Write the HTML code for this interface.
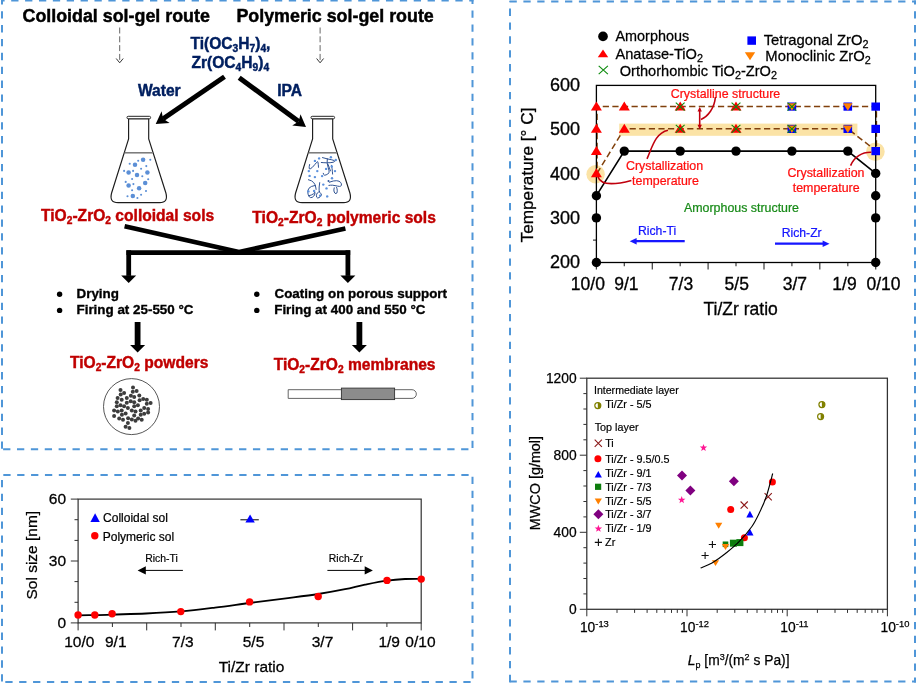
<!DOCTYPE html>
<html lang="en"><head><meta charset="utf-8"><title>TiO2-ZrO2 sol-gel graphical abstract</title>
<style>html,body{margin:0;padding:0;background:#fff}svg{display:block}text{font-family:"Liberation Sans", Arial, Helvetica, sans-serif;white-space:pre}</style>
</head><body>
<svg width="916" height="684" viewBox="0 0 916 684">
<rect width="916" height="684" fill="#fff"/>
<defs><filter id="soft" x="0" y="0" width="916" height="684" filterUnits="userSpaceOnUse"><feGaussianBlur stdDeviation="0.38"/></filter></defs>
<g filter="url(#soft)">
<g fill="none" stroke="#5096d8" stroke-width="2" stroke-dasharray="7.3 6.58">
<path d="M2 0 V450.2" stroke-dashoffset="2.68"/>
<path d="M2 0.6 H473.5" stroke-dashoffset="4.68"/>
<path d="M472.5 0 V449.2" stroke-dashoffset="3.38"/>
<path d="M1 449.2 H472.5" stroke-dashoffset="11.78"/>
<path d="M2 475 H472.5" stroke-dashoffset="12.58"/>
<path d="M2 475 V683" stroke-dashoffset="8.98"/>
<path d="M1 682 H473.5" stroke-dashoffset="9.58"/>
<path d="M472.5 475 V682" stroke-dashoffset="12.08"/>
<path d="M509 1.5 H916" stroke-dashoffset="13.38"/>
<path d="M510 1.5 V682.5" stroke-dashoffset="6.78"/>
<path d="M509 681.5 H916" stroke-dashoffset="13.38"/>
<path d="M915 0.5 V682.5" stroke-dashoffset="3.18"/>
</g>
<g id="flow">
<text transform="translate(22.49,21.5)" font-size="17.85" fill="#000" stroke="#000" stroke-width="0.46" font-weight="bold">Colloidal sol-gel route</text>
<text transform="translate(236.43,21.5)" font-size="17.85" fill="#000" stroke="#000" stroke-width="0.46" font-weight="bold">Polymeric sol-gel route</text>
<path d="M119.7 27.5 V62.5" stroke="#666" stroke-width="1" stroke-dasharray="6 2.8" fill="none"/>
<path d="M116.2 58.5 L119.7 62.8 L123.2 58.5" stroke="#333" stroke-width="1" fill="none"/>
<path d="M320.1 27.5 V62.5" stroke="#666" stroke-width="1" stroke-dasharray="6 2.8" fill="none"/>
<path d="M316.6 58.5 L320.1 62.8 L323.6 58.5" stroke="#333" stroke-width="1" fill="none"/>
<text transform="translate(190.44,49.4)" font-size="15.6" fill="#002060" stroke="#002060" stroke-width="0.41" font-weight="bold">Ti(OC<tspan font-size="10.2" dy="2.8">3</tspan><tspan dy="-2.8">H</tspan><tspan font-size="10.2" dy="2.8">7</tspan><tspan dy="-2.8">)</tspan><tspan font-size="10.2" dy="2.8">4</tspan><tspan dy="-2.8">,</tspan></text>
<text transform="translate(191.39,68.0)" font-size="15.6" fill="#002060" stroke="#002060" stroke-width="0.41" font-weight="bold">Zr(OC<tspan font-size="10.2" dy="2.8">4</tspan><tspan dy="-2.8">H</tspan><tspan font-size="10.2" dy="2.8">9</tspan><tspan dy="-2.8">)</tspan><tspan font-size="10.2" dy="2.8">4</tspan></text>
<text transform="translate(137.9,95.6)" font-size="15.6" fill="#002060" stroke="#002060" stroke-width="0.41" font-weight="bold">Water</text>
<text transform="translate(277.26,95.6)" font-size="15.6" fill="#002060" stroke="#002060" stroke-width="0.41" font-weight="bold">IPA</text>
<path d="M224.5 76.8 L163.1 118.8" stroke="#000" stroke-width="5" fill="none"/>
<path d="M155.7 123.9 L161.6 111.3 L163.1 118.8 L169.6 122.9 Z" fill="#000"/>
<path d="M239.2 77.8 L298.7 121.6" stroke="#000" stroke-width="5" fill="none"/>
<path d="M306.0 126.9 L292.2 125.4 L298.7 121.6 L300.5 114.2 Z" fill="#000"/>
<g transform="translate(0,0)">
<path d="M128.6 118.6 V138.8 L111.6 193 Q109 202.6 118 202.6 H159.5 Q168.5 202.6 165.9 193 L148.7 138.8 V118.6 Z" fill="#fff" stroke="#1a1a1a" stroke-width="1.15"/>
<rect x="127" y="116.3" width="23.6" height="2.5" rx="1.2" fill="#fff" stroke="#222" stroke-width="1"/>
<path d="M124.6 152.8 H152.8" stroke="#777" stroke-width="1.5" fill="none"/>
</g>
<g transform="translate(184,0)">
<path d="M128.6 118.6 V138.8 L111.6 193 Q109 202.6 118 202.6 H159.5 Q168.5 202.6 165.9 193 L148.7 138.8 V118.6 Z" fill="#fff" stroke="#1a1a1a" stroke-width="1.15"/>
<rect x="127" y="116.3" width="23.6" height="2.5" rx="1.2" fill="#fff" stroke="#222" stroke-width="1"/>
<path d="M124.6 152.8 H152.8" stroke="#777" stroke-width="1.5" fill="none"/>
</g>
<g fill="#5b8fd6">
<circle cx="143.1" cy="159.7" r="2.25"/>
<circle cx="135.0" cy="164.8" r="2.25"/>
<circle cx="128.6" cy="172.5" r="2.25"/>
<circle cx="137.0" cy="175.0" r="2.25"/>
<circle cx="147.4" cy="172.5" r="2.25"/>
<circle cx="145.2" cy="183.0" r="2.25"/>
<circle cx="128.6" cy="185.4" r="2.25"/>
<circle cx="139.1" cy="188.3" r="2.25"/>
<circle cx="132.8" cy="196.0" r="2.25"/>
<circle cx="150.3" cy="159.7" r="1.05"/>
<circle cx="138.2" cy="160.8" r="1.05"/>
<circle cx="129.7" cy="163.7" r="1.05"/>
<circle cx="146.3" cy="166.1" r="1.05"/>
<circle cx="141.1" cy="168.8" r="1.05"/>
<circle cx="124.1" cy="170.9" r="1.05"/>
<circle cx="133.1" cy="170.9" r="1.05"/>
<circle cx="142.3" cy="176.2" r="1.05"/>
<circle cx="132.1" cy="179.0" r="1.05"/>
<circle cx="148.2" cy="179.3" r="1.05"/>
<circle cx="125.7" cy="181.9" r="1.05"/>
<circle cx="133.4" cy="184.1" r="1.05"/>
<circle cx="146.0" cy="191.0" r="1.05"/>
<circle cx="132.1" cy="190.2" r="1.05"/>
<circle cx="141.1" cy="194.7" r="1.05"/>
<circle cx="127.5" cy="196.2" r="1.05"/>
<circle cx="137.4" cy="198.0" r="1.05"/>
</g>
<g fill="none" stroke="#254a8c" stroke-width="0.95" stroke-linejoin="round" stroke-linecap="round">
<path d="M309.6 164.5 Q308.4 169.7 310.2 168.9 Q312.1 168.1 314.7 164.7 Q317.3 161.3 317.7 161.7 Q318.1 162.1 318.3 164.7 L318.5 167.3"/>
<path d="M322.5 157.6 Q328.1 159.2 331.8 159.8 Q335.4 160.5 334.6 161.5 Q333.8 162.5 330.1 162.7 Q326.5 162.9 323.9 162.7 L321.3 162.5"/>
<path d="M327.3 158.8 Q326.5 162.9 328.1 167.3 Q329.7 171.7 328.9 172.9 Q328.1 174.1 326.1 174.9 Q324.1 175.7 323.7 174.5 L323.3 173.3"/>
<path d="M331.4 165.3 Q332.2 168.5 332.4 171.3 L332.6 174.1"/>
<path d="M328.1 164.5 L330.5 170.9"/>
<path d="M308.4 179.7 Q312.1 180.5 313.7 182.6 Q315.3 184.6 315.7 187.0 L316.1 189.4"/>
<path d="M315.3 185.4 Q310.5 186.2 309.0 188.2 Q307.6 190.2 307.8 192.6 Q308.0 195.0 309.2 196.6 Q310.5 198.2 312.1 197.4 Q313.7 196.6 314.5 195.0 Q315.3 193.4 314.7 192.0 L314.1 190.6"/>
<path d="M308.8 195.8 Q312.1 195.0 313.5 193.8 L314.9 192.6"/>
<path d="M319.7 182.6 Q318.9 187.8 319.1 190.2 Q319.3 192.6 320.5 193.2 Q321.7 193.8 321.3 195.2 Q320.9 196.6 319.1 197.6 Q317.3 198.6 316.7 197.2 Q316.1 195.8 316.7 194.2 Q317.3 192.6 318.3 192.2 L319.3 191.8"/>
<path d="M329.3 182.2 Q333.8 180.5 336.6 180.7 Q339.4 180.9 340.6 182.4 Q341.8 183.8 341.4 185.2 Q341.0 186.6 339.4 186.4 Q337.8 186.2 335.0 185.6 Q332.2 185.0 330.5 185.2 L328.9 185.4"/>
<path d="M334.2 187.8 Q333.4 190.2 334.2 192.0 Q335.0 193.8 336.0 193.6 Q337.0 193.4 337.2 191.8 Q337.4 190.2 337.0 188.8 L336.6 187.4"/>
</g>
<g fill="#5b90dc">
<circle cx="319.1" cy="158.4" r="1.2"/>
<circle cx="330.9" cy="157.2" r="1.2"/>
<circle cx="335.8" cy="160.0" r="1.2"/>
<circle cx="314.9" cy="160.9" r="1.2"/>
<circle cx="331.8" cy="166.5" r="1.2"/>
<circle cx="326.1" cy="168.9" r="1.2"/>
<circle cx="308.8" cy="171.1" r="1.2"/>
<circle cx="317.3" cy="171.1" r="1.2"/>
<circle cx="335.0" cy="171.1" r="1.2"/>
<circle cx="309.6" cy="175.9" r="1.2"/>
<circle cx="314.9" cy="177.1" r="1.2"/>
<circle cx="322.1" cy="176.1" r="1.2"/>
<circle cx="332.0" cy="178.3" r="1.2"/>
<circle cx="323.3" cy="184.6" r="1.2"/>
<circle cx="326.5" cy="188.4" r="1.2"/>
<circle cx="308.4" cy="191.4" r="1.2"/>
<circle cx="314.1" cy="191.0" r="1.2"/>
<circle cx="320.1" cy="195.8" r="1.2"/>
<circle cx="327.2" cy="196.4" r="1.2"/>
</g>
<circle cx="328.5" cy="180.9" r="1" fill="#2c5499"/>
<text transform="translate(41.04,221.1)" font-size="15.6" fill="#c00000" stroke="#c00000" stroke-width="0.41" font-weight="bold">TiO<tspan font-size="10.2" dy="2.8">2</tspan><tspan dy="-2.8">-ZrO</tspan><tspan font-size="10.2" dy="2.8">2</tspan><tspan dy="-2.8"> colloidal sols</tspan></text>
<text transform="translate(252.34,223.2)" font-size="15.6" fill="#c00000" stroke="#c00000" stroke-width="0.41" font-weight="bold">TiO<tspan font-size="10.2" dy="2.8">2</tspan><tspan dy="-2.8">-ZrO</tspan><tspan font-size="10.2" dy="2.8">2</tspan><tspan dy="-2.8"> polymeric sols</tspan></text>
<path d="M124.6 226.2 L240 252.2 M345.4 228.6 L238 252.2" stroke="#000" stroke-width="4.6" fill="none"/>
<path d="M126.4 252.6 H350.2" stroke="#000" stroke-width="4.6" fill="none"/>
<path d="M128.7 250.3 V275.9" stroke="#000" stroke-width="4.8" fill="none"/>
<path d="M121.19999999999999 275.4 H136.2 L128.7 283 Z" fill="#000"/>
<path d="M347.9 250.3 V275.9" stroke="#000" stroke-width="4.8" fill="none"/>
<path d="M340.4 275.4 H355.4 L347.9 283 Z" fill="#000"/>
<circle cx="59.6" cy="294.2" r="2.7" fill="#000"/>
<circle cx="59.6" cy="310.4" r="2.7" fill="#000"/>
<circle cx="256.8" cy="294.2" r="2.7" fill="#000"/>
<circle cx="256.8" cy="310.4" r="2.7" fill="#000"/>
<text transform="translate(76.5,297.8)" font-size="13.4" fill="#000" stroke="#000" stroke-width="0.35" font-weight="bold">Drying</text>
<text transform="translate(76.5,314.2)" font-size="13.4" fill="#000" stroke="#000" stroke-width="0.35" font-weight="bold">Firing at 25-550 °C</text>
<text transform="translate(274.46,297.8)" font-size="13.4" fill="#000" stroke="#000" stroke-width="0.35" font-weight="bold">Coating on porous support</text>
<text transform="translate(274.2,314.0)" font-size="13.4" fill="#000" stroke="#000" stroke-width="0.35" font-weight="bold">Firing at 400 and 550 °C</text>
<path d="M137.6 322 V345.4" stroke="#000" stroke-width="5.8" fill="none"/>
<path d="M130.1 344.9 H145.1 L137.6 352.5 Z" fill="#000"/>
<path d="M359.4 322 V345.4" stroke="#000" stroke-width="5.8" fill="none"/>
<path d="M351.9 344.9 H366.9 L359.4 352.5 Z" fill="#000"/>
<text transform="translate(69.94,368.3)" font-size="15.6" fill="#c00000" stroke="#c00000" stroke-width="0.41" font-weight="bold">TiO<tspan font-size="10.2" dy="2.8">2</tspan><tspan dy="-2.8">-ZrO</tspan><tspan font-size="10.2" dy="2.8">2</tspan><tspan dy="-2.8"> powders</tspan></text>
<text transform="translate(273.64,369.8)" font-size="15.6" fill="#c00000" stroke="#c00000" stroke-width="0.41" font-weight="bold">TiO<tspan font-size="10.2" dy="2.8">2</tspan><tspan dy="-2.8">-ZrO</tspan><tspan font-size="10.2" dy="2.8">2</tspan><tspan dy="-2.8"> membranes</tspan></text>
<circle cx="131.5" cy="406.6" r="28" fill="#fff" stroke="#444" stroke-width="0.9"/>
<g fill="#3c3c3c">
<circle cx="120.5" cy="390.0" r="2"/>
<circle cx="133.0" cy="387.6" r="2"/>
<circle cx="124.1" cy="393.0" r="2"/>
<circle cx="136.6" cy="391.0" r="2"/>
<circle cx="132.8" cy="391.7" r="2"/>
<circle cx="120.7" cy="394.4" r="2"/>
<circle cx="117.6" cy="398.1" r="2"/>
<circle cx="121.7" cy="399.7" r="2"/>
<circle cx="126.8" cy="398.1" r="2"/>
<circle cx="130.9" cy="395.8" r="2"/>
<circle cx="134.2" cy="397.1" r="2"/>
<circle cx="139.3" cy="395.6" r="2"/>
<circle cx="143.2" cy="398.9" r="2"/>
<circle cx="146.8" cy="399.7" r="2"/>
<circle cx="139.6" cy="400.2" r="2"/>
<circle cx="116.8" cy="402.2" r="2"/>
<circle cx="126.8" cy="402.8" r="2"/>
<circle cx="130.7" cy="401.2" r="2"/>
<circle cx="134.2" cy="402.2" r="2"/>
<circle cx="150.6" cy="403.0" r="2"/>
<circle cx="146.8" cy="403.8" r="2"/>
<circle cx="116.8" cy="406.3" r="2"/>
<circle cx="120.5" cy="405.3" r="2"/>
<circle cx="124.1" cy="406.3" r="2"/>
<circle cx="127.9" cy="407.9" r="2"/>
<circle cx="134.2" cy="406.3" r="2"/>
<circle cx="137.9" cy="405.3" r="2"/>
<circle cx="144.2" cy="407.9" r="2"/>
<circle cx="148.1" cy="408.9" r="2"/>
<circle cx="114.1" cy="410.4" r="2"/>
<circle cx="117.8" cy="411.5" r="2"/>
<circle cx="121.7" cy="410.4" r="2"/>
<circle cx="131.8" cy="410.4" r="2"/>
<circle cx="135.5" cy="411.5" r="2"/>
<circle cx="140.7" cy="410.4" r="2"/>
<circle cx="148.1" cy="412.5" r="2"/>
<circle cx="144.2" cy="413.8" r="2"/>
<circle cx="140.7" cy="414.7" r="2"/>
<circle cx="125.6" cy="413.5" r="2"/>
<circle cx="121.9" cy="414.7" r="2"/>
<circle cx="134.2" cy="415.5" r="2"/>
<circle cx="114.1" cy="416.1" r="2"/>
<circle cx="119.2" cy="418.6" r="2"/>
<circle cx="123.0" cy="419.8" r="2"/>
<circle cx="128.1" cy="418.3" r="2"/>
<circle cx="131.8" cy="419.6" r="2"/>
<circle cx="135.5" cy="420.7" r="2"/>
<circle cx="138.1" cy="418.6" r="2"/>
<circle cx="141.7" cy="419.8" r="2"/>
<circle cx="127.9" cy="422.9" r="2"/>
<circle cx="125.6" cy="426.8" r="2"/>
<circle cx="129.4" cy="428.0" r="2"/>
</g>
<path d="M288.2 389.7 H412 A4.35 4.35 0 0 1 412 398.4 H288.2 Z" fill="#fff" stroke="#555" stroke-width="0.9"/>
<rect x="341.4" y="388.1" width="53.2" height="11.5" fill="#8c8c8c" stroke="#333" stroke-width="0.9"/>
</g>
<g id="solsize">
<rect x="78.1" y="499.1" width="343.1" height="123.8" fill="none" stroke="#303030" stroke-width="1.2"/>
<path d="M78.1 622.9 v7.5M112.4 622.9 v4.1M146.7 622.9 v7.5M181.0 622.9 v4.1M215.3 622.9 v7.5M249.7 622.9 v4.1M284.0 622.9 v7.5M318.3 622.9 v4.1M352.6 622.9 v7.5M386.9 622.9 v4.1M421.2 622.9 v7.5M78.1 622.9 h-7.3M78.1 561.0 h-7.3M78.1 499.1 h-7.3M78.1 602.3 h-3.6M78.1 581.6 h-3.6M78.1 540.4 h-3.6M78.1 519.7 h-3.6" stroke="#303030" stroke-width="1" fill="none"/>
<text transform="translate(66.06,628.1)" font-size="15.5" fill="#000" stroke="#000" stroke-width="0.28" text-anchor="end">0</text>
<text transform="translate(66.06,566.2)" font-size="15.5" fill="#000" stroke="#000" stroke-width="0.28" text-anchor="end">30</text>
<text transform="translate(66.06,504.29999999999995)" font-size="15.5" fill="#000" stroke="#000" stroke-width="0.28" text-anchor="end">60</text>
<text transform="translate(64.15,647)" font-size="15.5" fill="#000" stroke="#000" stroke-width="0.28">10/0</text>
<text transform="translate(104.97,647)" font-size="15.5" fill="#000" stroke="#000" stroke-width="0.28">9/1</text>
<text transform="translate(172.12,647)" font-size="15.5" fill="#000" stroke="#000" stroke-width="0.28">7/3</text>
<text transform="translate(242.7,647)" font-size="15.5" fill="#000" stroke="#000" stroke-width="0.28">5/5</text>
<text transform="translate(311.75,647)" font-size="15.5" fill="#000" stroke="#000" stroke-width="0.28">3/7</text>
<text transform="translate(378.44,647)" font-size="15.5" fill="#000" stroke="#000" stroke-width="0.28">1/9</text>
<text transform="translate(405.36,647)" font-size="15.5" fill="#000" stroke="#000" stroke-width="0.28">0/10</text>
<text transform="translate(218.69,672.0)" font-size="15.5" fill="#000" stroke="#000" stroke-width="0.28">Ti/Zr ratio</text>
<text transform="translate(36.9,555.2) rotate(-90)" font-size="15.5" fill="#000" stroke="#000" stroke-width="0.28" text-anchor="middle">Sol size [nm]</text>
<path d="M78.1 615.3 C80.9 615.3 89.1 615.2 94.8 615.1 C100.5 615.0 103.6 614.9 112.1 614.6 C120.6 614.3 134.6 614.0 146.0 613.5 C157.4 613.0 169.3 612.4 180.8 611.4 C192.3 610.4 203.5 609.0 215.0 607.6 C226.5 606.2 238.1 604.5 249.6 603.0 C261.1 601.5 272.6 600.1 284.0 598.6 C295.4 597.1 308.0 595.6 318.2 594.0 C328.4 592.4 337.2 590.8 345.0 589.2 C352.8 587.6 358.0 586.0 365.0 584.6 C372.0 583.2 380.3 581.5 387.0 580.6 C393.7 579.7 399.3 579.3 405.0 579.0 C410.7 578.7 418.5 578.8 421.2 578.8" stroke="#000" stroke-width="1.8" fill="none"/>
<circle cx="78.1" cy="615" r="3.7" fill="#ff0000"/>
<circle cx="94.8" cy="615" r="3.7" fill="#ff0000"/>
<circle cx="112.1" cy="613.7" r="3.7" fill="#ff0000"/>
<circle cx="180.8" cy="611.6" r="3.7" fill="#ff0000"/>
<circle cx="249.6" cy="601.9" r="3.7" fill="#ff0000"/>
<circle cx="318.2" cy="596.5" r="3.7" fill="#ff0000"/>
<circle cx="387.0" cy="580.4" r="3.7" fill="#ff0000"/>
<circle cx="421.2" cy="579.1" r="3.7" fill="#ff0000"/>
<path d="M240.4 519.8 H258.8" stroke="#000" stroke-width="1"/>
<path d="M250.1 514.6 L254.8 522.6 H245.4 Z" fill="#0000ff"/>
<path d="M95.1 513.3 L99.8 521.9 H90.4 Z" fill="#0000ff"/>
<text transform="translate(103.1,521.8)" font-size="12" fill="#000" stroke="#000" stroke-width="0.22">Colloidal sol</text>
<circle cx="94.8" cy="535.8" r="3.7" fill="#ff0000"/>
<text transform="translate(102.74,540.7)" font-size="12" fill="#000" stroke="#000" stroke-width="0.22">Polymeric sol</text>
<text transform="translate(145.27,561.7)" font-size="10.4" fill="#000" stroke="#000" stroke-width="0.19">Rich-Ti</text>
<text transform="translate(328.87,561.9)" font-size="10.4" fill="#000" stroke="#000" stroke-width="0.19">Rich-Zr</text>
<path d="M182.9 570.4 H144" stroke="#000" stroke-width="1"/><path d="M137.6 570.4 L145.8 566.2 V574.6 Z" fill="#000"/>
<path d="M327.4 570.4 H366" stroke="#000" stroke-width="1"/><path d="M372.9 570.4 L364.7 566.2 V574.6 Z" fill="#000"/>
</g>
<g id="phase">
<rect x="619.2" y="123.6" width="238.2" height="12.2" fill="#fbe3a6"/>
<circle cx="595.6" cy="174.2" r="9.2" fill="#fbe3a6"/>
<circle cx="875.4" cy="151.7" r="9.3" fill="#fbe3a6"/>
<path d="M596.4 262.5 v7M624.3 262.5 v3.8M652.3 262.5 v7M680.2 262.5 v3.8M708.1 262.5 v7M736.0 262.5 v3.8M764.0 262.5 v7M791.9 262.5 v3.8M819.8 262.5 v7M847.8 262.5 v3.8M875.7 262.5 v7M596.4 240.2 h-3.4" stroke="#444" stroke-width="1.25" fill="none"/>
<path d="M597.0 173.4 L624.3 128.8 H847.8 L876.4 151.1 V106.6 H597.0 Z" fill="none" stroke="#80400a" stroke-width="1.5" stroke-dasharray="6.2 3.4"/>
<rect x="596.4" y="85.4" width="279.3" height="177.1" fill="none" stroke="#000" stroke-width="1.3"/>
<path d="M596.4 195.7 L624.3 151.1 H847.8 L875.7 173.4" fill="none" stroke="#000" stroke-width="1.6"/>
<circle cx="596.4" cy="262.5" r="4.7" fill="#000"/>
<circle cx="596.4" cy="217.9" r="4.7" fill="#000"/>
<circle cx="596.4" cy="195.7" r="4.7" fill="#000"/>
<circle cx="624.3" cy="151.1" r="4.7" fill="#000"/>
<circle cx="680.2" cy="151.1" r="4.7" fill="#000"/>
<circle cx="736.0" cy="151.1" r="4.7" fill="#000"/>
<circle cx="791.9" cy="151.1" r="4.7" fill="#000"/>
<circle cx="847.8" cy="151.1" r="4.7" fill="#000"/>
<circle cx="875.7" cy="262.5" r="4.7" fill="#000"/>
<circle cx="875.7" cy="217.9" r="4.7" fill="#000"/>
<circle cx="875.7" cy="195.7" r="4.7" fill="#000"/>
<circle cx="875.7" cy="173.4" r="4.7" fill="#000"/>
<path d="M596.4 168.3 L601.9 177.3 H590.9 Z" fill="#ff0000"/>
<path d="M596.4 146.0 L601.9 155.0 H590.9 Z" fill="#ff0000"/>
<path d="M596.4 123.8 L601.9 132.8 H590.9 Z" fill="#ff0000"/>
<path d="M596.4 101.5 L601.9 110.5 H590.9 Z" fill="#ff0000"/>
<path d="M624.3 123.8 L629.8 132.8 H618.8 Z" fill="#ff0000"/>
<path d="M624.3 101.5 L629.8 110.5 H618.8 Z" fill="#ff0000"/>
<path d="M680.2 123.8 L685.7 132.8 H674.7 Z" fill="#ff0000"/>
<path d="M680.2 101.5 L685.7 110.5 H674.7 Z" fill="#ff0000"/>
<path d="M736.0 123.8 L741.5 132.8 H730.5 Z" fill="#ff0000"/>
<path d="M736.0 101.5 L741.5 110.5 H730.5 Z" fill="#ff0000"/>
<rect x="787.6" y="124.8" width="8.6" height="8.2" fill="#0000ff"/>
<rect x="787.6" y="102.5" width="8.6" height="8.2" fill="#0000ff"/>
<rect x="843.5" y="124.8" width="8.6" height="8.2" fill="#0000ff"/>
<rect x="843.5" y="102.5" width="8.6" height="8.2" fill="#0000ff"/>
<rect x="871.4" y="147.0" width="8.6" height="8.2" fill="#0000ff"/>
<rect x="871.4" y="124.8" width="8.6" height="8.2" fill="#0000ff"/>
<rect x="871.4" y="102.5" width="8.6" height="8.2" fill="#0000ff"/>
<path d="M791.9 133.1 L796.7 125.5 H787.1 Z" fill="#ff8000"/>
<path d="M791.9 110.8 L796.7 103.2 H787.1 Z" fill="#ff8000"/>
<path d="M847.8 133.1 L852.6 125.5 H843.0 Z" fill="#ff8000"/>
<path d="M847.8 110.8 L852.6 103.2 H843.0 Z" fill="#ff8000"/>
<path d="M675.8 124.8 L684.6 132.8 M675.8 132.8 L684.6 124.8" stroke="#0a8a0a" stroke-width="1.1" fill="none"/>
<path d="M675.8 102.6 L684.6 110.6 M675.8 110.6 L684.6 102.6" stroke="#0a8a0a" stroke-width="1.1" fill="none"/>
<path d="M731.6 124.8 L740.4 132.8 M731.6 132.8 L740.4 124.8" stroke="#0a8a0a" stroke-width="1.1" fill="none"/>
<path d="M731.6 102.6 L740.4 110.6 M731.6 110.6 L740.4 102.6" stroke="#0a8a0a" stroke-width="1.1" fill="none"/>
<path d="M787.5 124.8 L796.3 132.8 M787.5 132.8 L796.3 124.8" stroke="#0a8a0a" stroke-width="1.1" fill="none"/>
<path d="M787.5 102.6 L796.3 110.6 M787.5 110.6 L796.3 102.6" stroke="#0a8a0a" stroke-width="1.1" fill="none"/>
<text transform="translate(580.15,268.2)" font-size="18" fill="#000" stroke="#000" stroke-width="0.32" text-anchor="end">200</text>
<text transform="translate(580.15,223.85)" font-size="18" fill="#000" stroke="#000" stroke-width="0.32" text-anchor="end">300</text>
<text transform="translate(580.15,179.5)" font-size="18" fill="#000" stroke="#000" stroke-width="0.32" text-anchor="end">400</text>
<text transform="translate(580.15,135.14999999999998)" font-size="18" fill="#000" stroke="#000" stroke-width="0.32" text-anchor="end">500</text>
<text transform="translate(580.15,90.79999999999998)" font-size="18" fill="#000" stroke="#000" stroke-width="0.32" text-anchor="end">600</text>
<text transform="translate(570.87,290.0)" font-size="17.5" fill="#000" stroke="#000" stroke-width="0.32">10/0</text>
<text transform="translate(614.24,290.0)" font-size="17.5" fill="#000" stroke="#000" stroke-width="0.32">9/1</text>
<text transform="translate(668.82,290.0)" font-size="17.5" fill="#000" stroke="#000" stroke-width="0.32">7/3</text>
<text transform="translate(724.6,290.0)" font-size="17.5" fill="#000" stroke="#000" stroke-width="0.32">5/5</text>
<text transform="translate(782.78,290.0)" font-size="17.5" fill="#000" stroke="#000" stroke-width="0.32">3/7</text>
<text transform="translate(832.33,290.0)" font-size="17.5" fill="#000" stroke="#000" stroke-width="0.32">1/9</text>
<text transform="translate(866.42,290.0)" font-size="17.5" fill="#000" stroke="#000" stroke-width="0.32">0/10</text>
<text transform="translate(703.55,315.2)" font-size="17.5" fill="#000" stroke="#000" stroke-width="0.32">Ti/Zr ratio</text>
<text transform="translate(533.4,175) rotate(-90)" font-size="17.2" fill="#000" stroke="#000" stroke-width="0.31" text-anchor="middle">Temperature [° C]</text>
<circle cx="603.0" cy="36.4" r="4.85" fill="#000"/>
<text transform="translate(615.5,40.7)" font-size="14.4" fill="#000" stroke="#000" stroke-width="0.26">Amorphous</text>
<path d="M603 49.6 L608.2 57.3 H597.8 Z" fill="#ff0000"/>
<text transform="translate(615.5,58.7)" font-size="14.6" fill="#000" stroke="#000" stroke-width="0.26">Anatase-TiO<tspan font-size="10.8" dy="2.9">2</tspan></text>
<path d="M598.7 65.8 L607.9 74.2 M598.7 74.2 L607.9 65.8" stroke="#0a8a0a" stroke-width="1.1" fill="none"/>
<text transform="translate(619.72,76.1)" font-size="14.6" fill="#000" stroke="#000" stroke-width="0.26">Orthorhombic TiO<tspan font-size="10.8" dy="2.9">2</tspan><tspan dy="-2.9">-ZrO</tspan><tspan font-size="10.8" dy="2.9">2</tspan></text>
<rect x="747.4" y="36.4" width="8.6" height="8.4" fill="#0000ff"/>
<text transform="translate(763.7,45.1)" font-size="14.8" fill="#000" stroke="#000" stroke-width="0.27">Tetragonal ZrO<tspan font-size="10.8" dy="2.9">2</tspan></text>
<path d="M750 60.3 L755.2 52.2 H744.8 Z" fill="#ff8000"/>
<text transform="translate(765.32,60.7)" font-size="14.8" fill="#000" stroke="#000" stroke-width="0.27">Monoclinic ZrO<tspan font-size="10.8" dy="2.9">2</tspan></text>
<text transform="translate(670.78,97.9)" font-size="12.4" fill="#ff0d0d" stroke="#ff0d0d" stroke-width="0.22">Crystalline structure</text>
<text transform="translate(625.98,169.9)" font-size="12.4" fill="#ff0d0d" stroke="#ff0d0d" stroke-width="0.22">Crystallization</text>
<text transform="translate(632.08,185.0)" font-size="12.4" fill="#ff0d0d" stroke="#ff0d0d" stroke-width="0.22">temperature</text>
<text transform="translate(787.38,177.1)" font-size="12.4" fill="#ff0d0d" stroke="#ff0d0d" stroke-width="0.22">Crystallization</text>
<text transform="translate(792.78,192.3)" font-size="12.4" fill="#ff0d0d" stroke="#ff0d0d" stroke-width="0.22">temperature</text>
<text transform="translate(684.0,211.5)" font-size="12.4" fill="#188a18" stroke="#188a18" stroke-width="0.22">Amorphous structure</text>
<g fill="none" stroke="#c00010" stroke-width="1.6">
<path d="M715.4 97 C714.5 108 708 116.5 701 119.4"/>
<path d="M699.7 108.6 V127.6"/>
<path d="M647 158.8 C652 148 655 133 668 130.2"/>
<path d="M631.4 180.4 C616 184.5 601 186 598 177"/>
<path d="M850.6 165.6 C854 157 862 152 871.3 152.3"/>
</g>
<path d="M699.7 106.9 L701.9 111.4 H697.5 Z M699.7 129.3 L701.9 124.8 H697.5 Z" fill="#c00010"/>
<text transform="translate(638.02,234.5)" font-size="12.2" fill="#1414ff" stroke="#1414ff" stroke-width="0.22">Rich-Ti</text>
<text transform="translate(781.72,237.2)" font-size="12.2" fill="#1414ff" stroke="#1414ff" stroke-width="0.22">Rich-Zr</text>
<path d="M684.7 241.2 H634" stroke="#1414ff" stroke-width="2.2"/><path d="M629.7 241.2 L636.6 237.9 V244.5 Z" fill="#1414ff"/>
<path d="M775 243.7 H825" stroke="#1414ff" stroke-width="2.2"/><path d="M829.5 243.7 L822.6 240.4 V247 Z" fill="#1414ff"/>
</g>
<g id="mwco">
<rect x="586.8" y="378.2" width="300.6" height="231.1" fill="none" stroke="#303030" stroke-width="1.25"/>
<path d="M586.8 609.3 h-7M586.8 593.9 h-3.4M586.8 578.5 h-3.4M586.8 563.1 h-3.4M586.8 547.7 h-3.4M586.8 532.3 h-7M586.8 516.9 h-3.4M586.8 501.5 h-3.4M586.8 486.0 h-3.4M586.8 470.6 h-3.4M586.8 455.2 h-7M586.8 439.8 h-3.4M586.8 424.4 h-3.4M586.8 409.0 h-3.4M586.8 393.6 h-3.4M586.8 378.2 h-7M586.8 609.3 v7M617.0 609.3 v3.6M634.6 609.3 v3.6M647.1 609.3 v3.6M656.8 609.3 v3.6M664.8 609.3 v3.6M671.5 609.3 v3.6M677.3 609.3 v3.6M682.4 609.3 v3.6M687.0 609.3 v7M717.2 609.3 v3.6M734.8 609.3 v3.6M747.3 609.3 v3.6M757.0 609.3 v3.6M765.0 609.3 v3.6M771.7 609.3 v3.6M777.5 609.3 v3.6M782.6 609.3 v3.6M787.2 609.3 v7M817.4 609.3 v3.6M835.0 609.3 v3.6M847.5 609.3 v3.6M857.2 609.3 v3.6M865.2 609.3 v3.6M871.9 609.3 v3.6M877.7 609.3 v3.6M882.8 609.3 v3.6M887.4 609.3 v7" stroke="#303030" stroke-width="1" fill="none"/>
<text transform="translate(576.6,614.0999999999999)" font-size="13.8" fill="#000" stroke="#000" stroke-width="0.25" text-anchor="end">0</text>
<text transform="translate(576.6,537.0666666666666)" font-size="13.8" fill="#000" stroke="#000" stroke-width="0.25" text-anchor="end">400</text>
<text transform="translate(576.6,460.03333333333336)" font-size="13.8" fill="#000" stroke="#000" stroke-width="0.25" text-anchor="end">800</text>
<text transform="translate(576.6,383.0)" font-size="13.8" fill="#000" stroke="#000" stroke-width="0.25" text-anchor="end">1200</text>
<text transform="translate(579.9,632.0)" font-size="13.8" fill="#000" stroke="#000" stroke-width="0.25">10<tspan font-size="9.4" dy="-5.4">-13</tspan></text>
<text transform="translate(680.1,632.0)" font-size="13.8" fill="#000" stroke="#000" stroke-width="0.25">10<tspan font-size="9.4" dy="-5.4">-12</tspan></text>
<text transform="translate(780.3,632.0)" font-size="13.8" fill="#000" stroke="#000" stroke-width="0.25">10<tspan font-size="9.4" dy="-5.4">-11</tspan></text>
<text transform="translate(880.5,632.0)" font-size="13.8" fill="#000" stroke="#000" stroke-width="0.25">10<tspan font-size="9.4" dy="-5.4">-10</tspan></text>
<text transform="translate(687.8,665.1)" font-size="13.8" fill="#000" stroke="#000" stroke-width="0.25"><tspan font-style="italic">L</tspan><tspan font-size="9" dy="2.5">p</tspan><tspan dy="-2.5"> [m</tspan><tspan font-size="9" dy="-5.5">3</tspan><tspan dy="5.5">/(m</tspan><tspan font-size="9" dy="-5.5">2</tspan><tspan dy="5.5"> s Pa)]</tspan></text>
<text transform="translate(539.9,483.1) rotate(-90)" font-size="14.4" fill="#000" stroke="#000" stroke-width="0.26" text-anchor="middle">MWCO [g/mol]</text>
<text transform="translate(593.95,394.4)" font-size="10.6" fill="#000" stroke="#000" stroke-width="0.19">Intermediate layer</text>
<text transform="translate(605.18,407.9)" font-size="10.8" fill="#000" stroke="#000" stroke-width="0.19">Ti/Zr - 5/5</text>
<text transform="translate(594.68,430.8)" font-size="10.8" fill="#000" stroke="#000" stroke-width="0.19">Top layer</text>
<text transform="translate(605.18,447.0)" font-size="10.8" fill="#000" stroke="#000" stroke-width="0.19">Ti</text>
<text transform="translate(605.18,463.2)" font-size="10.8" fill="#000" stroke="#000" stroke-width="0.19">Ti/Zr - 9.5/0.5</text>
<text transform="translate(605.18,477.3)" font-size="10.8" fill="#000" stroke="#000" stroke-width="0.19">Ti/Zr - 9/1</text>
<text transform="translate(605.18,491.1)" font-size="10.8" fill="#000" stroke="#000" stroke-width="0.19">Ti/Zr - 7/3</text>
<text transform="translate(605.18,504.8)" font-size="10.8" fill="#000" stroke="#000" stroke-width="0.19">Ti/Zr - 5/5</text>
<text transform="translate(605.18,518.4)" font-size="10.8" fill="#000" stroke="#000" stroke-width="0.19">Ti/Zr - 3/7</text>
<text transform="translate(605.18,532.4)" font-size="10.8" fill="#000" stroke="#000" stroke-width="0.19">Ti/Zr - 1/9</text>
<text transform="translate(605.08,546.4)" font-size="10.8" fill="#000" stroke="#000" stroke-width="0.19">Zr</text>
<circle cx="597.8" cy="405.6" r="3.0" fill="#fff" stroke="#808000" stroke-width="1.2"/><path d="M597.8 402.6 A3.0 3.0 0 0 1 597.8 408.6 Z" fill="#808000"/>
<path d="M594.7 439.6 L601.9 446.8 M594.7 446.8 L601.9 439.6" stroke="#8b1a1a" stroke-width="1.1" fill="none"/>
<circle cx="597.9" cy="458.7" r="3.5" fill="#ff0000"/>
<path d="M598.3 470.9 L601.9 477.6 H594.6999999999999 Z" fill="#0000ff"/>
<rect x="595.0" y="483.7" width="6.2" height="6.2" fill="#0a7d0a"/>
<path d="M598.3 504.5 L601.9 498.59999999999997 H594.6999999999999 Z" fill="#ff8000"/>
<path d="M598.4 509.29999999999995 L603.4 514.3 L598.4 519.3 L593.4 514.3 Z" fill="#800080"/>
<path d="M598.40 524.80 L599.34 527.41 L602.11 527.49 L599.92 529.19 L600.69 531.86 L598.40 530.30 L596.11 531.86 L596.88 529.19 L594.69 527.49 L597.46 527.41 Z" fill="#ff1493"/>
<path d="M594.8 542.4 H602.0 M598.4 538.8 V546.0" stroke="#111" stroke-width="1.1" fill="none"/>
<circle cx="821.9" cy="404.6" r="3.0" fill="#fff" stroke="#808000" stroke-width="1.2"/><path d="M821.9 401.6 A3.0 3.0 0 0 1 821.9 407.6 Z" fill="#808000"/>
<circle cx="820.6" cy="416.6" r="3.0" fill="#fff" stroke="#808000" stroke-width="1.2"/><path d="M820.6 413.6 A3.0 3.0 0 0 1 820.6 419.6 Z" fill="#808000"/>
<path d="M703.50 443.90 L704.44 446.51 L707.21 446.59 L705.02 448.29 L705.79 450.96 L703.50 449.40 L701.21 450.96 L701.98 448.29 L699.79 446.59 L702.56 446.51 Z" fill="#ff1493"/>
<path d="M681.70 496.10 L682.64 498.71 L685.41 498.79 L683.22 500.49 L683.99 503.16 L681.70 501.60 L679.41 503.16 L680.18 500.49 L677.99 498.79 L680.76 498.71 Z" fill="#ff1493"/>
<path d="M682 470.6 L687.0 475.6 L682 480.6 L677.0 475.6 Z" fill="#800080"/>
<path d="M690.4 485.5 L695.4 490.5 L690.4 495.5 L685.4 490.5 Z" fill="#800080"/>
<path d="M733.9 476.3 L738.9 481.3 L733.9 486.3 L728.9 481.3 Z" fill="#800080"/>
<circle cx="772.4" cy="482.1" r="3.5" fill="#ff0000"/>
<circle cx="730.7" cy="509.5" r="3.5" fill="#ff0000"/>
<circle cx="744.4" cy="537.7" r="3.5" fill="#ff0000"/>
<path d="M740.6 501.5 L747.8 508.7 M740.6 508.7 L747.8 501.5" stroke="#8b1a1a" stroke-width="1.1" fill="none"/>
<path d="M764.6 493.2 L771.8 500.4 M764.6 500.4 L771.8 493.2" stroke="#8b1a1a" stroke-width="1.1" fill="none"/>
<path d="M749.9 510.69999999999993 L753.5 517.4 H746.3 Z" fill="#0000ff"/>
<path d="M749.9 528.8 L753.5 535.5 H746.3 Z" fill="#0000ff"/>
<path d="M718.7 528.6999999999999 L722.3000000000001 522.8 H715.1 Z" fill="#ff8000"/>
<path d="M715.5 566.0999999999999 L719.1 560.1999999999999 H711.9 Z" fill="#ff8000"/>
<rect x="722.7" y="541.5" width="5.6" height="5.6" fill="#0a7d0a"/>
<rect x="729.9" y="539.7" width="7" height="7" fill="#0a7d0a"/>
<rect x="736.4" y="539.1" width="7" height="7" fill="#0a7d0a"/>
<path d="M725.5 549.9 L729.1 544.0 H721.9 Z" fill="#ff8000"/>
<path d="M708.8 544.5 H716.0 M712.4 540.9 V548.1" stroke="#111" stroke-width="1.1" fill="none"/>
<path d="M701.5 555.5 H708.7 M705.1 551.9 V559.1" stroke="#111" stroke-width="1.1" fill="none"/>
<path d="M700.6 568.1 C702.5 567.2 707.9 565.4 712.0 563.0 C716.1 560.6 721.1 557.0 725.5 553.5 C729.9 550.0 734.2 546.7 738.6 542.2 C743.0 537.7 748.1 531.8 751.7 526.7 C755.3 521.6 757.5 516.6 760.0 511.5 C762.5 506.4 764.4 502.3 766.5 496.0 C768.6 489.7 771.7 477.2 772.7 473.5" stroke="#000" stroke-width="1.1" fill="none"/>
</g>
</g>
</svg></body></html>
